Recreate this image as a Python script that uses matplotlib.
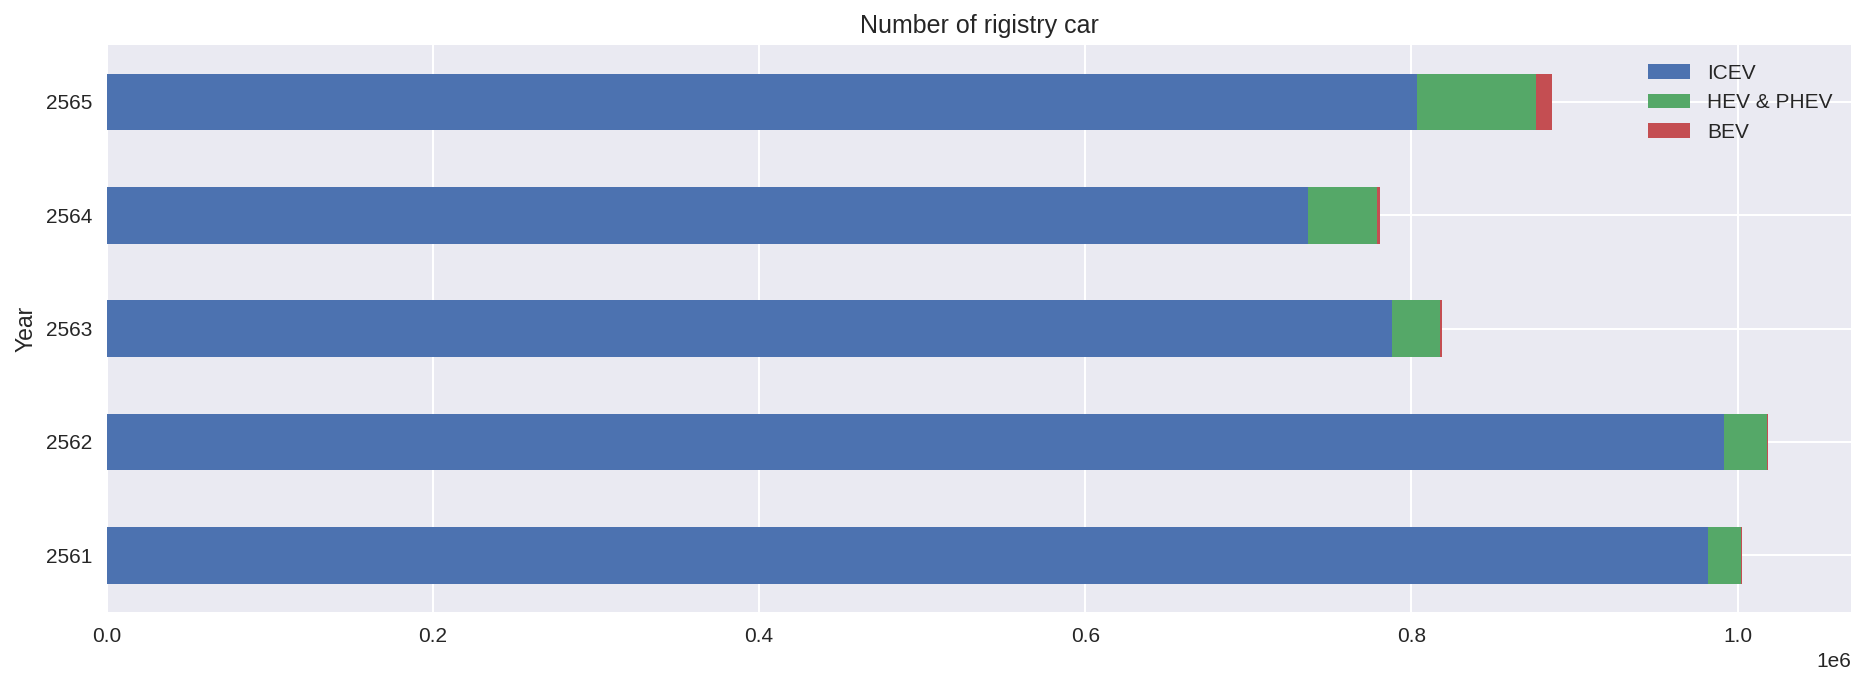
import matplotlib
matplotlib.use("Agg")
import matplotlib.pyplot as plt
import numpy as np

# registered cars per year (Thai Buddhist calendar)
years = ["2561", "2562", "2563", "2564", "2565"]
icev = [982000, 991600, 788300, 736500, 803500]
hev_phev = [20200, 26500, 29400, 42300, 72700]
bev = [300, 600, 1100, 1900, 9800]

plt.style.use("seaborn-v0_8")

fig = plt.figure(figsize=(1866 / 150, 686 / 150), dpi=150)
ax = fig.add_axes([0.0573, 0.1079, 0.9347, 0.8261])

y = np.arange(len(years))
h = 0.5
ax.barh(y, icev, height=h, label="ICEV")
left = np.array(icev)
ax.barh(y, hev_phev, height=h, left=left, label="HEV & PHEV")
left = left + np.array(hev_phev)
ax.barh(y, bev, height=h, left=left, label="BEV")
total = left + np.array(bev)

ax.set_yticks(y)
ax.set_yticklabels(years)
ax.set_ylim(-0.5, len(years) - 0.5)
ax.set_xlim(0, total.max() * 1.05)
ax.set_ylabel("Year")
ax.set_title("Number of rigistry car")
ax.legend(loc="upper right")

fig.savefig("out.png", dpi=150)
